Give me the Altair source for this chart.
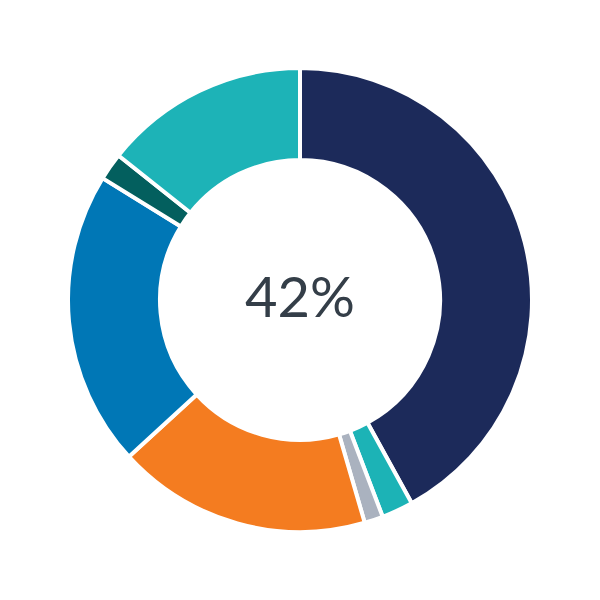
import altair as alt
import pandas as pd

segments = ["A", "B", "C", "D", "E", "F", "G"]
shares = [42.0, 2.2, 1.3, 17.7, 20.6, 1.9, 14.3]
colors = ["#1c2a5a", "#1cb3b6", "#aab2bf", "#f47c20", "#0077b6", "#035f5e", "#1db3b7"]
center_label = "42%"

df = pd.DataFrame({"segment": segments, "share": shares, "order": range(len(segments))})

donut = (
    alt.Chart(df)
    .mark_arc(outerRadius=232, innerRadius=140, stroke="white", strokeWidth=4)
    .encode(
        theta=alt.Theta("share:Q", stack=True),
        order=alt.Order("order:Q"),
        color=alt.Color(
            "segment:N",
            scale=alt.Scale(domain=segments, range=colors),
            legend=None,
        ),
    )
)

label = (
    alt.Chart(pd.DataFrame({"t": [center_label]}))
    .mark_text(fontSize=56, font="Lato", color="#343e48", baseline="middle")
    .encode(text="t:N")
)

chart = (
    (donut + label)
    .properties(width=584, height=584, padding=0, autosize=alt.AutoSizeParams(type="none"))
    .configure_view(stroke=None)
)

chart.save("out.html", embed_options={"renderer": "svg", "actions": False})
